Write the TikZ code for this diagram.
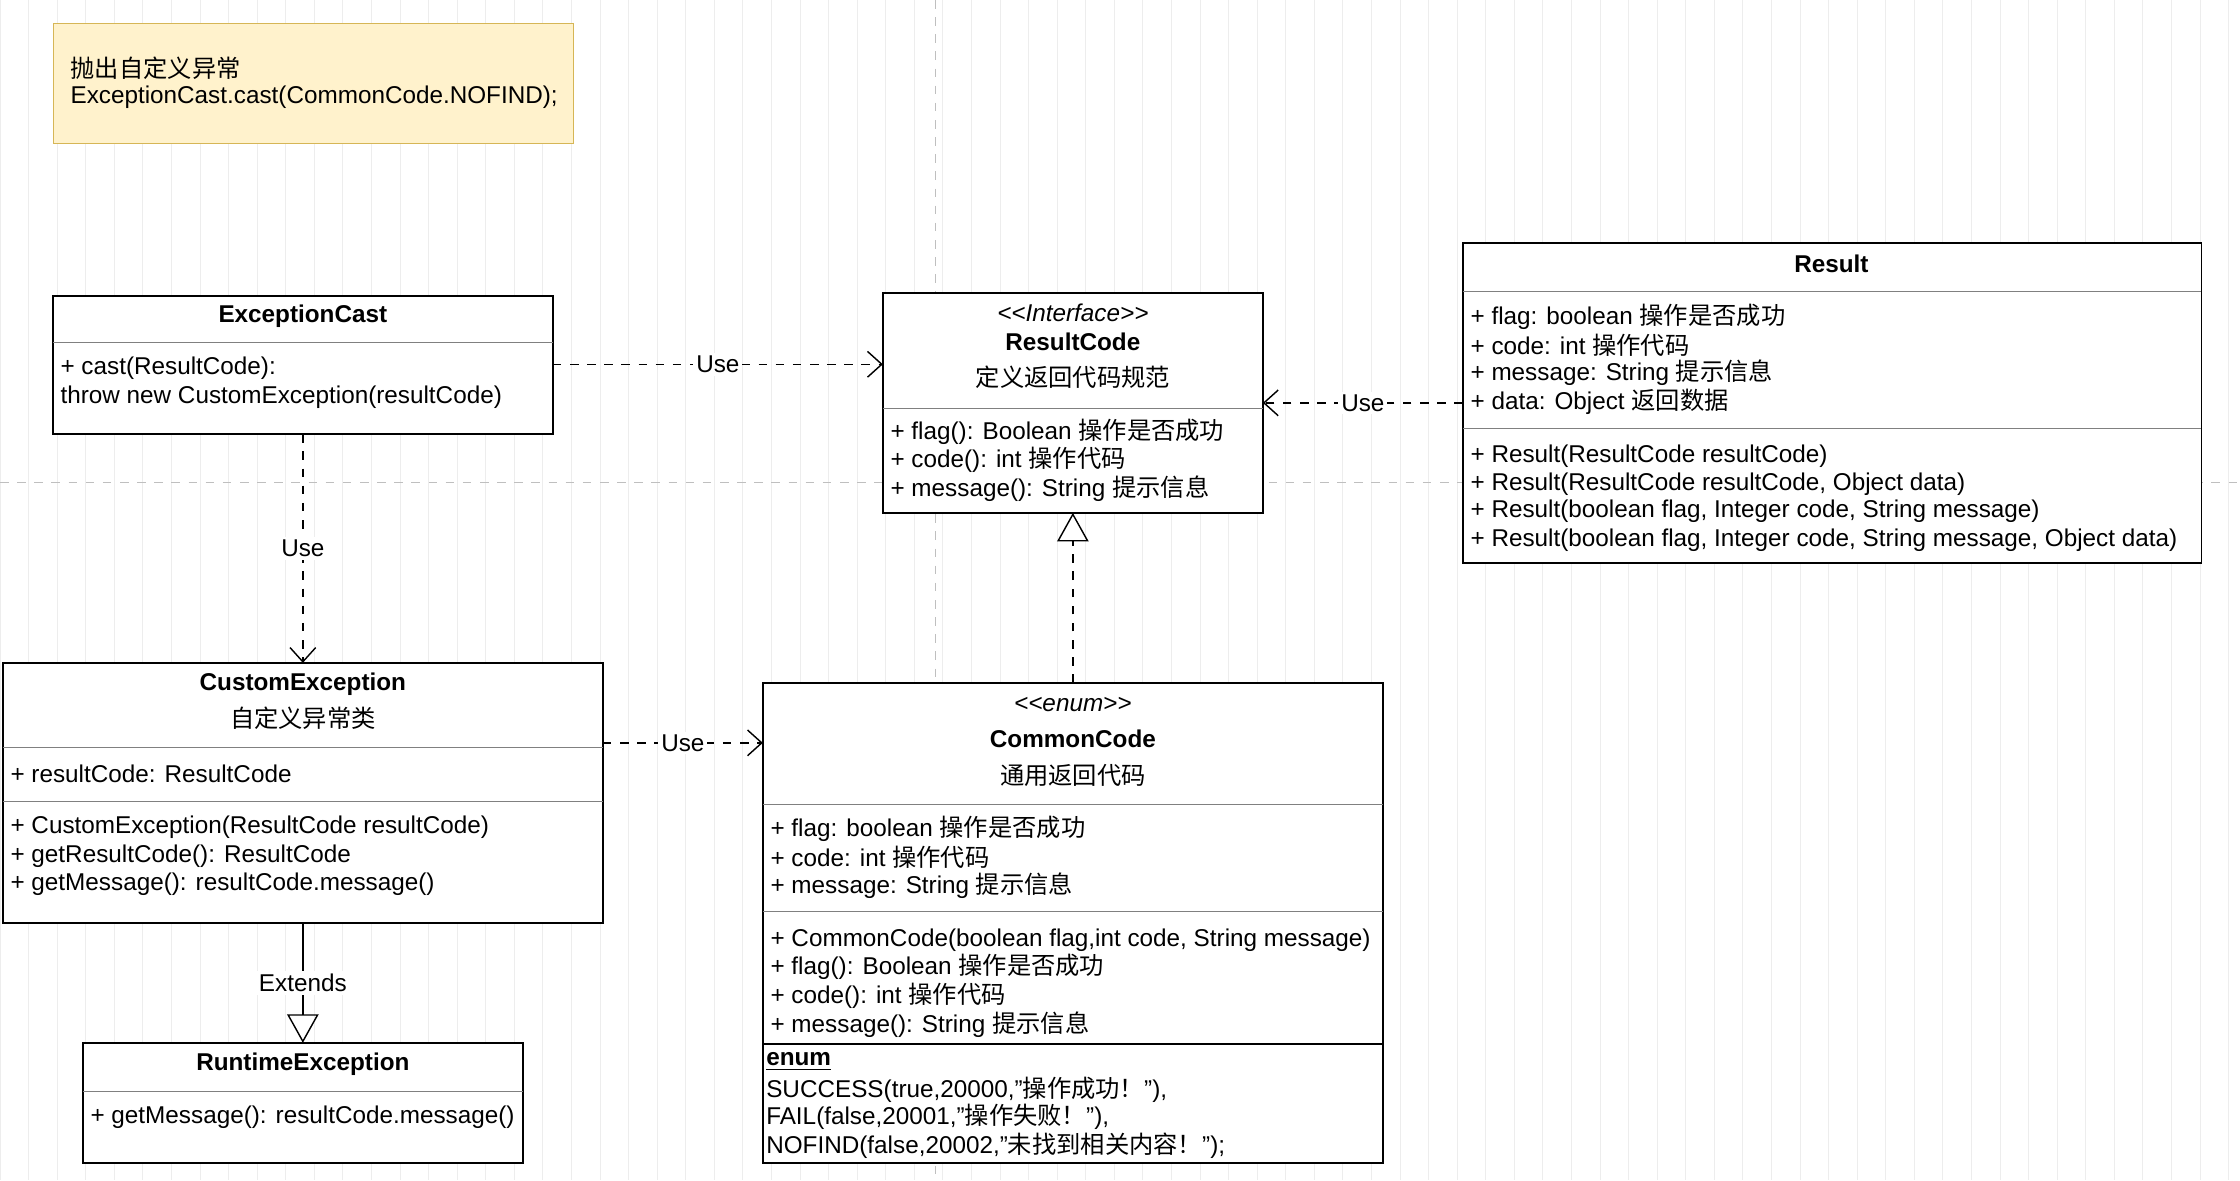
\documentclass[tikz,border=0pt]{standalone}
\usepackage{fontspec}
\setmainfont{Liberation Sans}
\newfontfamily\cjk{Noto Sans CJK SC}
\usetikzlibrary{arrows.meta}
\newcommand{\zh}[1]{{\cjk #1}}
\newcommand{\dq}{\symbol{34}}
\newcommand{\fs}{\fontsize{8.5}{10}\selectfont}
\begin{document}
\begin{tikzpicture}[x=0.5pt,y=-0.5pt,
  txt/.style={anchor=west,inner sep=0pt,font=\fs},
  ctxt/.style={inner sep=0pt,font=\fs},
  box/.style={draw=black,line width=0.6pt,fill=white},
  dep/.style={dashed,line width=0.5pt,-{Straight Barb[length=5pt,width=9pt]}},
  real/.style={dashed,line width=0.5pt,-{Triangle[open,length=10pt,width=11pt]}},
  ext/.style={line width=0.5pt,-{Triangle[open,length=10pt,width=11pt]}},
  lbl/.style={fill=white,inner sep=1pt,font=\fs}]
\useasboundingbox (0,0) rectangle (1568,826);
\fill[white] (0,0) rectangle (1568,826);
\draw[black!7,line width=0.3pt] (0,0) grid[step=20] (1568,826);
\draw[black!25,dashed,line width=0.4pt] (655,0) -- (655,826) (0,338) -- (1568,338);
% note
\node[draw={rgb,255:red,214;green,182;blue,86},fill={rgb,255:red,255;green,242;blue,204},minimum width=182pt,minimum height=42pt,anchor=north west,inner sep=0pt] (note) at (37,16) {};
\node[txt] (n1) at (49,48) {\zh{抛出自定义异常}};
\node[txt] (n2) at (49,68) {ExceptionCast.cast(CommonCode.NOFIND);};
% ExceptionCast
\draw[box] (37,207) rectangle (387,304);
\node[ctxt,font=\bfseries\fs] (ect) at (212,221) {ExceptionCast};
\draw[black!50] (37,240) -- (387,240);
\node[txt] at (42,258) {+ cast(ResultCode):};
\node[txt] at (42,278) {throw new CustomException(resultCode)};
\coordinate (ecR) at (387,255); \coordinate (ecB) at (212,304);
% ResultCode
\draw[box] (618,205) rectangle (884,359);
\node[ctxt,font=\itshape\fs] at (751,219) {<{}<Interface>{}>};
\node[ctxt,font=\bfseries\fs] at (751,239) {ResultCode};
\node[ctxt] at (751,264) {\zh{定义返回代码规范}};
\draw[black!50] (618,286) -- (884,286);
\node[txt] at (623,302) {+ flag(): Boolean \zh{操作是否成功}};
\node[txt] at (623,322) {+ code(): int \zh{操作代码}};
\node[txt] at (623,342) {+ message(): String \zh{提示信息}};
\coordinate (rcL) at (618,255); \coordinate (rcR) at (884,282); \coordinate (rcB) at (751,359);
% Result
\draw[box] (1024,170) rectangle (1541,394);
\node[ctxt,font=\bfseries\fs] at (1282,185) {Result};
\draw[black!50] (1024,204) -- (1541,204);
\node[txt] at (1029,222) {+ flag: boolean \zh{操作是否成功}};
\node[txt] at (1029,242) {+ code: int \zh{操作代码}};
\node[txt] at (1029,261) {+ message: String \zh{提示信息}};
\node[txt] at (1029,281) {+ data: Object \zh{返回数据}};
\draw[black!50] (1024,300) -- (1541,300);
\node[txt] at (1029,319) {+ Result(ResultCode resultCode)};
\node[txt] at (1029,339) {+ Result(ResultCode resultCode, Object data)};
\node[txt] at (1029,358) {+ Result(boolean flag, Integer code, String message)};
\node[txt] at (1029,378) {+ Result(boolean flag, Integer code, String message, Object data)};
\coordinate (reL) at (1024,282);
% CustomException
\draw[box] (2,464) rectangle (422,646);
\node[ctxt,font=\bfseries\fs] at (212,479) {CustomException};
\node[ctxt] at (212,503) {\zh{自定义异常类}};
\draw[black!50] (2,523) -- (422,523);
\node[txt] at (7,542) {+ resultCode: ResultCode};
\draw[black!50] (2,561) -- (422,561);
\node[txt] at (7,579) {+ CustomException(ResultCode resultCode)};
\node[txt] at (7,599) {+ getResultCode(): ResultCode};
\node[txt] at (7,619) {+ getMessage(): resultCode.message()};
\coordinate (ceT) at (212,464); \coordinate (ceR) at (422,520); \coordinate (ceB) at (212,646);
% RuntimeException
\draw[box] (58,730) rectangle (366,814);
\node[ctxt,font=\bfseries\fs] at (212,745) {RuntimeException};
\draw[black!50] (58,764) -- (366,764);
\node[txt] at (63,782) {+ getMessage(): resultCode.message()};
\coordinate (rtT) at (212,730);
% CommonCode
\draw[box] (534,478) rectangle (968,814);
\node[ctxt,font=\itshape\fs] at (751,493) {<{}<enum>{}>};
\node[ctxt,font=\bfseries\fs] at (751,517) {CommonCode};
\node[ctxt] at (751,543) {\zh{通用返回代码}};
\draw[black!50] (534,563) -- (968,563);
\node[txt] at (539,580) {+ flag: boolean \zh{操作是否成功}};
\node[txt] at (539,600) {+ code: int \zh{操作代码}};
\node[txt] at (539,620) {+ message: String \zh{提示信息}};
\draw[black!50] (534,638) -- (968,638);
\node[txt] at (539,658) {+ CommonCode(boolean flag,int code, String message)};
\node[txt] at (539,677) {+ flag(): Boolean \zh{操作是否成功}};
\node[txt] at (539,697) {+ code(): int \zh{操作代码}};
\node[txt] at (539,717) {+ message(): String \zh{提示信息}};
\draw[black,line width=0.6pt] (534,731) -- (968,731);
\node[txt,font=\bfseries\fs] at (536,743) {\underline{enum}};
\node[txt] at (536,763) {SUCCESS(true,20000,\dq\zh{操作成功！}\dq),};
\node[txt] at (536,782) {FAIL(false,20001,\dq\zh{操作失败！}\dq),};
\node[txt] at (536,802) {NOFIND(false,20002,\dq\zh{未找到相关内容！}\dq);};
\coordinate (ccL) at (534,520); \coordinate (ccT) at (751,478);
% connectors
\draw[dep] (ecR) -- node[lbl] {Use} (rcL);
\draw[dep] (reL) -- node[lbl,pos=0.5] {Use} (rcR);
\draw[dep] (ecB) -- node[lbl,pos=0.5] {Use} (ceT);
\draw[dep] (ceR) -- node[lbl] {Use} (ccL);
\draw[real] (ccT) -- (rcB);
\draw[ext] (ceB) -- node[lbl,pos=0.5] {Extends} (rtT);
\end{tikzpicture}
\end{document}
